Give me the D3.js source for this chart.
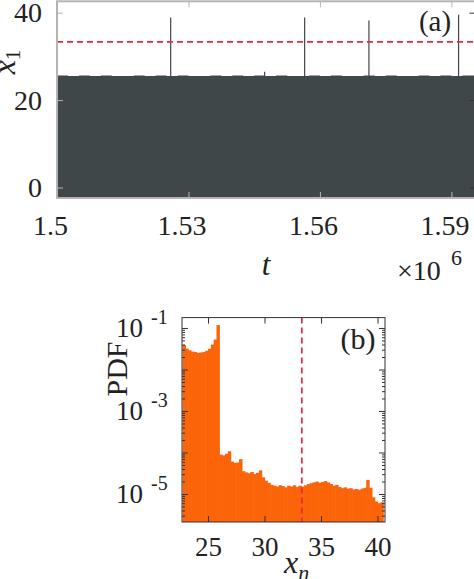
<!DOCTYPE html>
<html><head><meta charset="utf-8">
<script src="https://cdn.jsdelivr.net/npm/d3@7"></script>
<style>body{margin:0;background:#fff}svg{display:block}svg text{font-family:'Liberation Serif','Times New Roman',serif !important;fill:#222}</style>
</head><body><svg id="c" width="474" height="579"></svg>
<script>
// ---------- panel (a) data ----------
const tTicks = [1.5, 1.53, 1.56, 1.59];
const x1Ticks = [0, 20, 40];
const envT = [1.5,1.5025,1.505,1.5075,1.51,1.5125,1.515,1.5175,1.52,1.5225,1.525,1.5275,1.53,1.5325,1.535,1.5375,1.54,1.5425,1.545,1.5475,1.55,1.5525,1.555,1.5575,1.56,1.5625,1.565,1.5675,1.57,1.5725,1.575,1.5775,1.58,1.5825,1.585,1.5875,1.59,1.5925,1.596];
const envMax = [25.6,25.5,25.6,25.5,25.6,25.5,25.5,25.6,25.5,25.6,25.5,25.6,25.5,25.5,25.6,25.5,25.6,25.5,25.6,25.5,25.6,25.5,25.5,25.6,25.5,25.6,25.5,25.5,25.6,25.5,25.6,25.5,25.5,25.6,25.5,25.6,25.5,25.6,25.6];
const envMin = -2.4;
const spikeT = [1.52594, 1.54738, 1.55651, 1.57118, 1.59164];
const spikeVal = [38.9, 26.5, 38.9, 38.2, 39.5];
const threshold = 33.3;

// ---------- panel (b) data ----------
const xnTicks = [25, 30, 35, 40];
const pdfTicks = [1e-1, 1e-3, 1e-5];
const binWidth = 0.25;
const binStart = [22.75,23,23.25,23.5,23.75,24,24.25,24.5,24.75,25,25.25,25.5,25.75,
  26,26.25,26.5,26.75,27,27.25,27.5,27.75,28,28.25,28.5,28.75,29,29.25,29.5,29.75,
  30,30.25,30.5,30.75,31,31.25,31.5,31.75,32,32.25,32.5,32.75,33,33.25,33.5,33.75,
  34,34.25,34.5,34.75,35,35.25,35.5,35.75,36,36.25,36.5,36.75,37,37.25,37.5,37.75,
  38,38.25,38.5,38.75,39,39.25,39.5,39.75,40,40.25];
const logPdf = [-1.41,-1.50,-1.54,-1.57,-1.58,-1.60,-1.59,-1.58,-1.55,-1.50,-1.40,-1.28,-0.93,
  -4.05,-4.07,-4.03,-3.97,-4.22,-4.25,-4.24,-4.16,-4.45,-4.48,-4.50,-4.47,-4.52,-4.49,-4.43,-4.60,
  -4.68,-4.73,-4.78,-4.80,-4.82,-4.79,-4.81,-4.84,-4.80,-4.82,-4.79,-4.83,-4.80,-4.82,-4.79,-4.76,
  -4.74,-4.72,-4.70,-4.73,-4.71,-4.69,-4.72,-4.76,-4.80,-4.78,-4.83,-4.86,-4.84,-4.87,-4.86,-4.89,
  -4.88,-4.90,-4.87,-4.85,-4.66,-4.85,-5.08,-5.18,-5.22,-5.20];

const svg = d3.select('#c');
const RED = '#e8283c', DARK = '#3f4749', ORANGE = '#fc6409';
const SERIF = "'Liberation Serif','Times New Roman',serif";

// ================= panel (a) =================
const A = {l:57, r:475.5, t:1.3, b:198};
const xa = d3.scaleLinear().domain([1.5, 1.5955]).range([A.l, A.r]);
const ya = d3.scaleLinear().domain([-2.4, 42.6]).range([A.b, A.t]);
svg.append('clipPath').attr('id','ca').append('rect')
  .attr('x',A.l).attr('y',A.t).attr('width',A.r-A.l).attr('height',A.b-A.t);
const ga = svg.append('g').attr('clip-path','url(#ca)');
const env = envT.map((t,i)=>({t, v:envMax[i]}));
ga.append('path').datum(env)
  .attr('fill',DARK)
  .attr('d', d3.area().x(d=>xa(d.t)).y0(ya(envMin)).y1(d=>ya(d.v)).curve(d3.curveStepAfter));
ga.selectAll('line.sp').data(spikeT).join('line').attr('class','sp')
  .attr('x1',d=>xa(d)).attr('x2',d=>xa(d))
  .attr('y1',ya(25)).attr('y2',(d,i)=>ya(spikeVal[i]))
  .attr('stroke',DARK).attr('stroke-width',1.2);
ga.append('line').attr('x1',A.l).attr('x2',A.r).attr('y1',ya(threshold)).attr('y2',ya(threshold))
  .attr('stroke',RED).attr('stroke-width',1.7).attr('stroke-dasharray','6,4');

const fcA = '#b4b4b4';
function styleAxis(g, col){
  g.attr('font-family', SERIF);
  g.select('.domain').remove();
  g.selectAll('.tick line').attr('stroke',col);
  g.selectAll('text').attr('fill','#222').style('font-family', SERIF);
}
svg.append('g').attr('transform',`translate(0,${A.b})`)
  .call(d3.axisBottom(xa).tickValues(tTicks).tickSize(-6).tickPadding(17).tickFormat(d3.format('')))
  .call(g=>{styleAxis(g,fcA); g.selectAll('text').attr('font-size',28).attr('dx',-7);});
svg.append('g').attr('transform',`translate(0,${A.t})`)
  .call(d3.axisTop(xa).tickValues(tTicks).tickSize(-6).tickFormat(''))
  .call(g=>styleAxis(g,fcA));
svg.append('g').attr('transform',`translate(${A.l},0)`)
  .call(d3.axisLeft(ya).tickValues(x1Ticks).tickSize(-6).tickPadding(15))
  .call(g=>{styleAxis(g,fcA); g.selectAll('text').attr('font-size',28);});
svg.append('g').attr('transform',`translate(${A.r},0)`)
  .call(d3.axisRight(ya).tickValues(x1Ticks).tickSize(-6).tickFormat(''))
  .call(g=>styleAxis(g,'#333'));
svg.append('rect').attr('x',A.l).attr('y',A.t).attr('width',A.r-A.l).attr('height',A.b-A.t)
  .attr('fill','none').attr('stroke',fcA).attr('stroke-width',2);

function txt(){ return svg.append('text').style('font-family', SERIF).attr('fill','#222'); }
txt().attr('x',266).attr('y',275).attr('text-anchor','middle')
  .attr('font-size',31).attr('font-style','italic').text('t');
txt().attr('x',397).attr('y',280).attr('font-size',28).text('\u00d710');
txt().attr('x',451).attr('y',265).attr('font-size',22).text('6');
txt().attr('transform','translate(15,62) rotate(-90)').attr('text-anchor','middle')
  .attr('font-size',32).call(t=>{
    t.append('tspan').attr('font-style','italic').text('x');
    t.append('tspan').attr('font-size',21).attr('dy',5).text('1');
  });
txt().attr('x',435).attr('y',31).attr('text-anchor','middle').attr('font-size',29).text('(a)');

// ================= panel (b) =================
const B = {l:182, r:385, t:317.6, b:522};
const xb = d3.scaleLinear().domain([22.7, 40.66]).range([B.l, B.r]);
const yb = d3.scaleLog().domain([Math.pow(10,-5.675), Math.pow(10,-0.75)]).range([B.b, B.t]);
svg.append('clipPath').attr('id','cb').append('rect')
  .attr('x',B.l).attr('y',B.t).attr('width',B.r-B.l).attr('height',B.b-B.t);
const gb = svg.append('g').attr('clip-path','url(#cb)');
gb.selectAll('rect.bar').data(binStart).join('rect').attr('class','bar')
  .attr('x',d=>xb(d)).attr('width',d=>xb(d+binWidth)-xb(d)+0.6)
  .attr('y',(d,i)=>yb(Math.pow(10,logPdf[i])))
  .attr('height',(d,i)=>B.b-yb(Math.pow(10,logPdf[i])))
  .attr('fill',ORANGE);
gb.append('line').attr('x1',xb(threshold)).attr('x2',xb(threshold)).attr('y1',B.t).attr('y2',B.b)
  .attr('stroke',RED).attr('stroke-width',1.7).attr('stroke-dasharray','6,4');

const fcB = '#333';
svg.append('g').attr('transform',`translate(0,${B.b})`)
  .call(d3.axisBottom(xb).tickValues(xnTicks).tickSize(-6).tickPadding(15))
  .call(g=>{styleAxis(g,fcB); g.selectAll('text').attr('font-size',27);});
svg.append('g').attr('transform',`translate(0,${B.t})`)
  .call(d3.axisTop(xb).tickValues(xnTicks).tickSize(-6).tickFormat(''))
  .call(g=>styleAxis(g,fcB));
const minorB = [];
for (let e=-6; e<=0; e++) for (let m=2; m<=9; m++){ const v=m*Math.pow(10,e); if(v>yb.domain()[0]&&v<yb.domain()[1]) minorB.push(v); }
const majB = [1e-5,1e-4,1e-3,1e-2,1e-1];
[B.l, B.r].forEach((xx,k)=>{
  const ax = k===0 ? d3.axisLeft(yb) : d3.axisRight(yb);
  svg.append('g').attr('transform',`translate(${xx},0)`)
    .call(ax.tickValues(majB).tickSize(-6).tickFormat('')).call(g=>styleAxis(g,fcB));
  const ax2 = k===0 ? d3.axisLeft(yb) : d3.axisRight(yb);
  svg.append('g').attr('transform',`translate(${xx},0)`)
    .call(ax2.tickValues(minorB).tickSize(-3).tickFormat('')).call(g=>styleAxis(g,fcB));
});
svg.append('rect').attr('x',B.l).attr('y',B.t).attr('width',B.r-B.l).attr('height',B.b-B.t)
  .attr('fill','none').attr('stroke',fcB).attr('stroke-width',1);
pdfTicks.forEach(p=>{
  const e = Math.round(Math.log10(p));
  txt().attr('x',B.l-39).attr('y',yb(p)+9).attr('text-anchor','end').attr('font-size',27).text('10');
  txt().attr('x',B.l-31).attr('y',yb(p)-4).attr('font-size',20).text(String(e));
});
txt().attr('transform','translate(127,369) rotate(-90)').attr('text-anchor','middle')
  .attr('font-size',30).text('PDF');
txt().attr('x',284).attr('y',573).attr('font-size',32).call(t=>{
  t.append('tspan').attr('font-style','italic').text('x');
  t.append('tspan').attr('font-size',22).attr('font-style','italic').attr('dy',7).text('n');
});
txt().attr('x',358).attr('y',349).attr('text-anchor','middle').attr('font-size',30).text('(b)');
</script></body></html>
